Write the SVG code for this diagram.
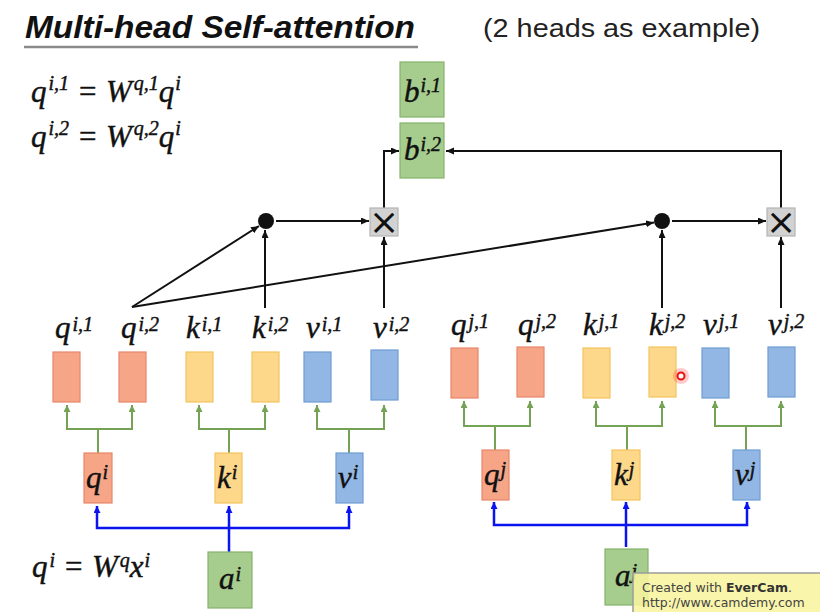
<svg xmlns="http://www.w3.org/2000/svg" width="820" height="612" viewBox="0 0 820 612">
<style>
.m{font-family:"Liberation Serif","DejaVu Serif",serif;font-style:italic;font-size:31px;fill:#111;stroke:#111;stroke-width:0.45}
.s{font-size:20px}
.q{fill:#f7a587;stroke:#e8866a;stroke-width:1.2}
.k{fill:#fdd88a;stroke:#f3c35e;stroke-width:1.2}
.v{fill:#93b7e4;stroke:#6f9dd3;stroke-width:1.2}
.g{fill:#a6cd8d;stroke:#86b36c;stroke-width:1.2}
.x{fill:#d2d2d2;stroke:#b5b5b5;stroke-width:1.2}
.bk{fill:none;stroke:#111;stroke-width:2}
.gr{fill:none;stroke:#74a356;stroke-width:2}
.bl{fill:none;stroke:#0a14f0;stroke-width:2.5}
.xs{font-family:"DejaVu Sans",sans-serif;font-size:36px;fill:#111}
</style>
<defs>
<marker id="ab" markerUnits="userSpaceOnUse" markerWidth="10" markerHeight="8" refX="8" refY="3.5" orient="auto"><path d="M0,0 L8,3.5 L0,7 z" fill="#111"/></marker>
<marker id="ag" markerUnits="userSpaceOnUse" markerWidth="9" markerHeight="8" refX="7" refY="3.5" orient="auto"><path d="M0,0 L7,3.5 L0,7 z" fill="#74a356"/></marker>
<marker id="au" markerUnits="userSpaceOnUse" markerWidth="9" markerHeight="8" refX="7" refY="3.5" orient="auto"><path d="M0,0 L7,3.5 L0,7 z" fill="#0a14f0"/></marker>
</defs>
<rect width="820" height="612" fill="#ffffff"/>

<g id="title">
<text x="25" y="38" font-family="Liberation Sans,Arial,sans-serif" font-weight="bold" font-style="italic" font-size="32" textLength="390" lengthAdjust="spacingAndGlyphs" fill="#111">Multi-head Self-attention</text>
<line x1="24" y1="47" x2="418" y2="47" stroke="#8a8a8a" stroke-width="2.5"/>
<text x="483" y="37" font-family="Liberation Sans,Arial,sans-serif" font-size="26" textLength="277" lengthAdjust="spacingAndGlyphs" fill="#222">(2 heads as example)</text>
</g>

<g id="equations">
<text class="m" x="31" y="102">q<tspan class="s" dx="2" dy="-12">i,1</tspan><tspan dx="8" dy="12">=</tspan><tspan dx="8">W</tspan><tspan class="s" dx="2" dy="-12">q,1</tspan><tspan dy="12">q</tspan><tspan class="s" dx="1" dy="-12">i</tspan></text>
<text class="m" x="31" y="147">q<tspan class="s" dx="2" dy="-12">i,2</tspan><tspan dx="8" dy="12">=</tspan><tspan dx="8">W</tspan><tspan class="s" dx="2" dy="-12">q,2</tspan><tspan dy="12">q</tspan><tspan class="s" dx="1" dy="-12">i</tspan></text>
<text class="m" x="32" y="577">q<tspan class="s" dx="2" dy="-10">i</tspan><tspan dx="8" dy="10">=</tspan><tspan dx="8">W</tspan><tspan class="s" dx="2" dy="-10">q</tspan><tspan dy="10">x</tspan><tspan class="s" dx="1" dy="-10">i</tspan></text>
</g>

<g id="connectors">
<path class="bl" d="M229,552 V506" marker-end="url(#au)"/>
<path class="bl" d="M229,528 H97 V506" marker-end="url(#au)"/>
<path class="bl" d="M229,528 H349 V506" marker-end="url(#au)"/>
<path class="bl" d="M626,547 V502" marker-end="url(#au)"/>
<path class="bl" d="M626,525 H494 V502" marker-end="url(#au)"/>
<path class="bl" d="M626,525 H747 V502" marker-end="url(#au)"/>
<path class="gr" d="M98,453 V429 H67 V405" marker-end="url(#ag)"/>
<path class="gr" d="M98,429 H132 V405" marker-end="url(#ag)"/>
<path class="gr" d="M229,453 V429 H199 V405" marker-end="url(#ag)"/>
<path class="gr" d="M229,429 H265 V405" marker-end="url(#ag)"/>
<path class="gr" d="M349,453 V429 H317 V405" marker-end="url(#ag)"/>
<path class="gr" d="M349,429 H384 V405" marker-end="url(#ag)"/>
<path class="gr" d="M495,450 V426 H464 V401" marker-end="url(#ag)"/>
<path class="gr" d="M495,426 H530 V401" marker-end="url(#ag)"/>
<path class="gr" d="M627,450 V426 H596 V401" marker-end="url(#ag)"/>
<path class="gr" d="M627,426 H662 V401" marker-end="url(#ag)"/>
<path class="gr" d="M746,450 V426 H715 V401" marker-end="url(#ag)"/>
<path class="gr" d="M746,426 H781 V401" marker-end="url(#ag)"/>
<path class="bk" d="M132,307 L259,226" marker-end="url(#ab)"/>
<path class="bk" d="M132,307 L654,222.5" marker-end="url(#ab)"/>
<path class="bk" d="M265,308 V230" marker-end="url(#ab)"/>
<path class="bk" d="M276,221 H369" marker-end="url(#ab)"/>
<path class="bk" d="M384,308 V237" marker-end="url(#ab)"/>
<path class="bk" d="M384,208 V151 H399" marker-end="url(#ab)"/>
<path class="bk" d="M662,308 V230" marker-end="url(#ab)"/>
<path class="bk" d="M672,221 H766" marker-end="url(#ab)"/>
<path class="bk" d="M781,308 V237" marker-end="url(#ab)"/>
<path class="bk" d="M781,208 V151 H446" marker-end="url(#ab)"/>
</g>

<g id="b_i1"><rect class="g" x="400" y="62" width="44" height="55"/><text class="m" x="404" y="102">b<tspan class="s" dx="1" dy="-10">i,1</tspan></text></g>
<g id="b_i2"><rect class="g" x="400" y="123" width="44" height="55"/><text class="m" x="404" y="160">b<tspan class="s" dx="1" dy="-9">i,2</tspan></text></g>

<g id="dot_i"><circle cx="266" cy="221" r="8" fill="#111"/></g>
<g id="mul_i"><rect class="x" x="370" y="208" width="28" height="28"/><text class="xs" x="384" y="234" text-anchor="middle">×</text></g>
<g id="dot_j"><circle cx="662" cy="221" r="8" fill="#111"/></g>
<g id="mul_j"><rect class="x" x="767" y="208" width="28" height="28"/><text class="xs" x="781" y="234" text-anchor="middle">×</text></g>

<g id="q_i1"><text class="m" x="55" y="338">q<tspan class="s" dx="2" dy="-7">i,1</tspan></text><rect class="q" x="53" y="352" width="27" height="50"/></g>
<g id="q_i2"><text class="m" x="121" y="338">q<tspan class="s" dx="2" dy="-7">i,2</tspan></text><rect class="q" x="119" y="352" width="27" height="50"/></g>
<g id="k_i1"><text class="m" x="186" y="338">k<tspan class="s" dx="2" dy="-7">i,1</tspan></text><rect class="k" x="186" y="352" width="27" height="50"/></g>
<g id="k_i2"><text class="m" x="252" y="338">k<tspan class="s" dx="2" dy="-7">i,2</tspan></text><rect class="k" x="252" y="352" width="27" height="50"/></g>
<g id="v_i1"><text class="m" x="306" y="338">v<tspan class="s" dx="2" dy="-7">i,1</tspan></text><rect class="v" x="304" y="352" width="27" height="50"/></g>
<g id="v_i2"><text class="m" x="373" y="338">v<tspan class="s" dx="2" dy="-7">i,2</tspan></text><rect class="v" x="371" y="350" width="27" height="50"/></g>

<g id="q_j1"><text class="m" x="451" y="335">q<tspan class="s" dx="2" dy="-7">j,1</tspan></text><rect class="q" x="451" y="348" width="27" height="50"/></g>
<g id="q_j2"><text class="m" x="518" y="335">q<tspan class="s" dx="2" dy="-7">j,2</tspan></text><rect class="q" x="517" y="347" width="27" height="50"/></g>
<g id="k_j1"><text class="m" x="583" y="335">k<tspan class="s" dx="2" dy="-7">j,1</tspan></text><rect class="k" x="583" y="348" width="27" height="50"/></g>
<g id="k_j2"><text class="m" x="649" y="335">k<tspan class="s" dx="2" dy="-7">j,2</tspan></text><rect class="k" x="649" y="347" width="27" height="50"/></g>
<g id="v_j1"><text class="m" x="703" y="335">v<tspan class="s" dx="2" dy="-7">j,1</tspan></text><rect class="v" x="702" y="348" width="27" height="50"/></g>
<g id="v_j2"><text class="m" x="768" y="335">v<tspan class="s" dx="2" dy="-7">j,2</tspan></text><rect class="v" x="768" y="347" width="27" height="50"/></g>

<g id="q_i"><rect class="q" x="84" y="453" width="28" height="50"/><text class="m" x="86" y="488">q<tspan class="s" dx="1" dy="-9">i</tspan></text></g>
<g id="k_i"><rect class="k" x="215" y="453" width="27" height="50"/><text class="m" x="217" y="488">k<tspan class="s" dx="1" dy="-9">i</tspan></text></g>
<g id="v_i"><rect class="v" x="336" y="453" width="27" height="50"/><text class="m" x="338" y="488">v<tspan class="s" dx="1" dy="-9">i</tspan></text></g>
<g id="a_i"><rect class="g" x="208" y="552" width="44" height="56"/><text class="m" x="219" y="589">a<tspan class="s" dx="1" dy="-8">i</tspan></text></g>

<g id="q_j"><rect class="q" x="482" y="450" width="27" height="50"/><text class="m" x="484" y="485">q<tspan class="s" dx="1" dy="-9">j</tspan></text></g>
<g id="k_j"><rect class="k" x="612" y="450" width="28" height="50"/><text class="m" x="614" y="485">k<tspan class="s" dx="1" dy="-9">j</tspan></text></g>
<g id="v_j"><rect class="v" x="733" y="450" width="27" height="50"/><text class="m" x="735" y="485">v<tspan class="s" dx="1" dy="-9">j</tspan></text></g>
<g id="a_j"><rect class="g" x="605" y="549" width="43" height="56"/><text class="m" x="615" y="586">a<tspan class="s" dx="1" dy="-8">j</tspan></text></g>

<g id="cursor"><circle cx="681" cy="376" r="8" fill="#ff3030" opacity="0.25"/><circle cx="681" cy="376" r="3.5" fill="#fff" stroke="#ee1111" stroke-width="2"/></g>

<g id="watermark">
<rect x="633" y="573" width="190" height="42" fill="#f8f49e" fill-opacity="0.88" stroke="#9c9c9c" stroke-width="1.5"/>
<text x="642" y="592" font-family="DejaVu Sans,sans-serif" font-size="12.5" fill="#444">Created with <tspan font-weight="bold" fill="#333">EverCam</tspan>.</text>
<text x="642" y="607" font-family="DejaVu Sans,sans-serif" font-size="12.5" fill="#444">http://www.camdemy.com</text>
</g>
</svg>
